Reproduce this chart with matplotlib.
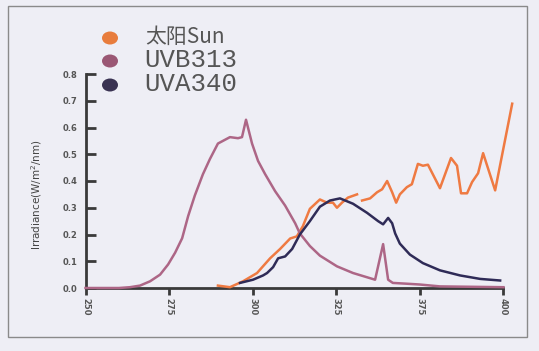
import numpy as np
import matplotlib
matplotlib.use("Agg")
import matplotlib.pyplot as plt
from matplotlib.patches import Ellipse, Rectangle

# ---- data ----
sun_x = [289.6, 293.2, 297.1, 301.3, 305.2, 308.2, 311.2, 313.2, 315.0, 317.1, 320.1, 322.2,
         324.0, 325.2, 326.7, 328.5, 331.2, np.nan, 332.7, 335.1, 337.2, 338.7, 340.2, 341.7,
         342.9, 344.0, 346.1, 347.6, 349.4, 350.9, 352.4, 356.0, 359.3, 361.1, 362.3, 364.1,
         365.6, 367.4, 368.9, 372.5, 377.6]
sun_y = [0.009, 0.003, 0.025, 0.056, 0.111, 0.146, 0.185, 0.193, 0.231, 0.296, 0.331, 0.319,
         0.319, 0.300, 0.319, 0.338, 0.350, np.nan, 0.327, 0.335, 0.358, 0.369, 0.400, 0.358,
         0.319, 0.350, 0.377, 0.388, 0.464, 0.457, 0.461, 0.373, 0.486, 0.457, 0.354, 0.354,
         0.396, 0.429, 0.504, 0.365, 0.689]

uvb_x = [250, 260.0, 263.3, 266.3, 269.3, 272.3, 274.7, 276.8, 278.9, 280.7, 282.7, 285.1,
         287.2, 289.6, 293.2, 295.6, 296.8, 298.0, 299.8, 301.6, 303.7, 306.7, 309.7, 312.7,
         314.1, 317.1, 320.1, 325.2, 330.0, 336.6, 339.0, 340.5, 341.9, 346.1, 350.0, 356.0,
         375.0]
uvb_y = [0.0, 0.0, 0.003, 0.009, 0.025, 0.050, 0.088, 0.132, 0.186, 0.269, 0.346, 0.425,
         0.482, 0.540, 0.564, 0.560, 0.564, 0.629, 0.540, 0.475, 0.426, 0.362, 0.308, 0.242,
         0.204, 0.157, 0.121, 0.081, 0.056, 0.031, 0.164, 0.031, 0.019, 0.016, 0.013, 0.006,
         0.003]

uva_x = [296.2, 300.1, 303.1, 304.3, 306.1, 307.6, 309.7, 311.8, 314.1, 317.1, 320.1, 323.1,
         326.1, 330.0, 334.2, 337.5, 339.0, 340.5, 341.7, 342.6, 344.0, 347.0, 350.9, 356.0,
         362.0, 368.0, 374.0]
uva_y = [0.019, 0.031, 0.047, 0.056, 0.078, 0.111, 0.118, 0.146, 0.200, 0.250, 0.304, 0.327,
         0.335, 0.315, 0.281, 0.250, 0.238, 0.262, 0.242, 0.204, 0.166, 0.125, 0.093, 0.066,
         0.047, 0.034, 0.028]

series_names = ["太阳Sun", "UVB313", "UVA340"]
x_ticks = [250, 275, 300, 325, 350, 375]
x_tick_labels = ["250", "275", "300", "325", "375", "400"]
y_ticks = [0.0, 0.1, 0.2, 0.3, 0.4, 0.5, 0.6, 0.7, 0.8]
y_tick_labels = ["0.0", "0.1", "0.2", "0.3", "0.4", "0.5", "0.6", "0.7", "0.8"]

# ---- styling ----
BG = "#eeeef5"
C_SUN = "#ef7a42"
C_UVB = "#ad6686"
C_UVA = "#2f2b57"
L_SUN = "#e87c3c"
L_UVB = "#9a5774"
L_UVA = "#3a3352"
AX = "#3a3a3a"

W, H = 539, 351
fig = plt.figure(figsize=(W / 100, H / 100), dpi=100, facecolor=BG)

x0, x1 = 250, 378
px_left, px_per_unit = 85.5, 83.6 / 25
ax_w = (x1 - x0) * px_per_unit
ax = fig.add_axes([px_left / W, (H - 288) / H, ax_w / W, (288 - 74) / H])
ax.set_facecolor(BG)
ax.set_xlim(x0, x1)
ax.set_ylim(0, 0.8)

ax.plot(sun_x, sun_y, color=C_SUN, lw=1.8, clip_on=False, zorder=3, solid_joinstyle="round")
ax.plot(uvb_x, uvb_y, color=C_UVB, lw=1.8, clip_on=False, zorder=4, solid_joinstyle="round")
ax.plot(uva_x, uva_y, color=C_UVA, lw=1.8, clip_on=False, zorder=5, solid_joinstyle="round")

for s in ["top", "right"]:
    ax.spines[s].set_visible(False)
for s in ["left", "bottom"]:
    ax.spines[s].set_color(AX)
    ax.spines[s].set_linewidth(2.0)
ax.spines["bottom"].set_bounds(250, 375)
ax.spines["left"].set_bounds(0, 0.8)

ax.set_xticks(x_ticks)
ax.set_xticklabels(x_tick_labels, rotation=-90, fontsize=6, fontweight="bold", color="#555555")
ax.set_yticks(y_ticks)
ax.set_yticklabels(y_tick_labels, fontsize=6, fontweight="bold", color="#555555")
ax.tick_params(axis="x", direction="out", length=5, width=2.0, color=AX, pad=2)
ax.tick_params(axis="y", direction="in", length=7, width=2.0, color=AX, pad=6)

fig.text(37 / W, 1 - 195 / H, "Irradiance(W/m$^2$/nm)", rotation=90, ha="center", va="center",
         fontsize=7.5, color="#444444")

# legend
leg_y = [38, 61, 85]
leg_c = [L_SUN, L_UVB, L_UVA]
for yy, cc, name, i in zip(leg_y, leg_c, series_names, range(3)):
    fig.add_artist(Ellipse((110 / W, 1 - yy / H), 16 / W, 13 / H, transform=fig.transFigure,
                           facecolor=cc, edgecolor="none"))
    if i == 0:
        fig.text(145 / W, 1 - (yy - 1) / H, name, ha="left", va="center", fontsize=15,
                 color="#555555", family=["Noto Sans CJK SC", "DejaVu Sans"])
    else:
        fig.text(144 / W, 1 - (yy - 1) / H, name, ha="left", va="center", fontsize=18.5,
                 color="#555555", family=["Liberation Mono", "DejaVu Sans Mono"])

# frame
fig.add_artist(Rectangle((8 / W, 1 - 337 / H), 519 / W, 331 / H, transform=fig.transFigure,
                         fill=False, edgecolor="#8a8a8a", lw=1))

fig.savefig("out.png", dpi=100, facecolor=BG)
